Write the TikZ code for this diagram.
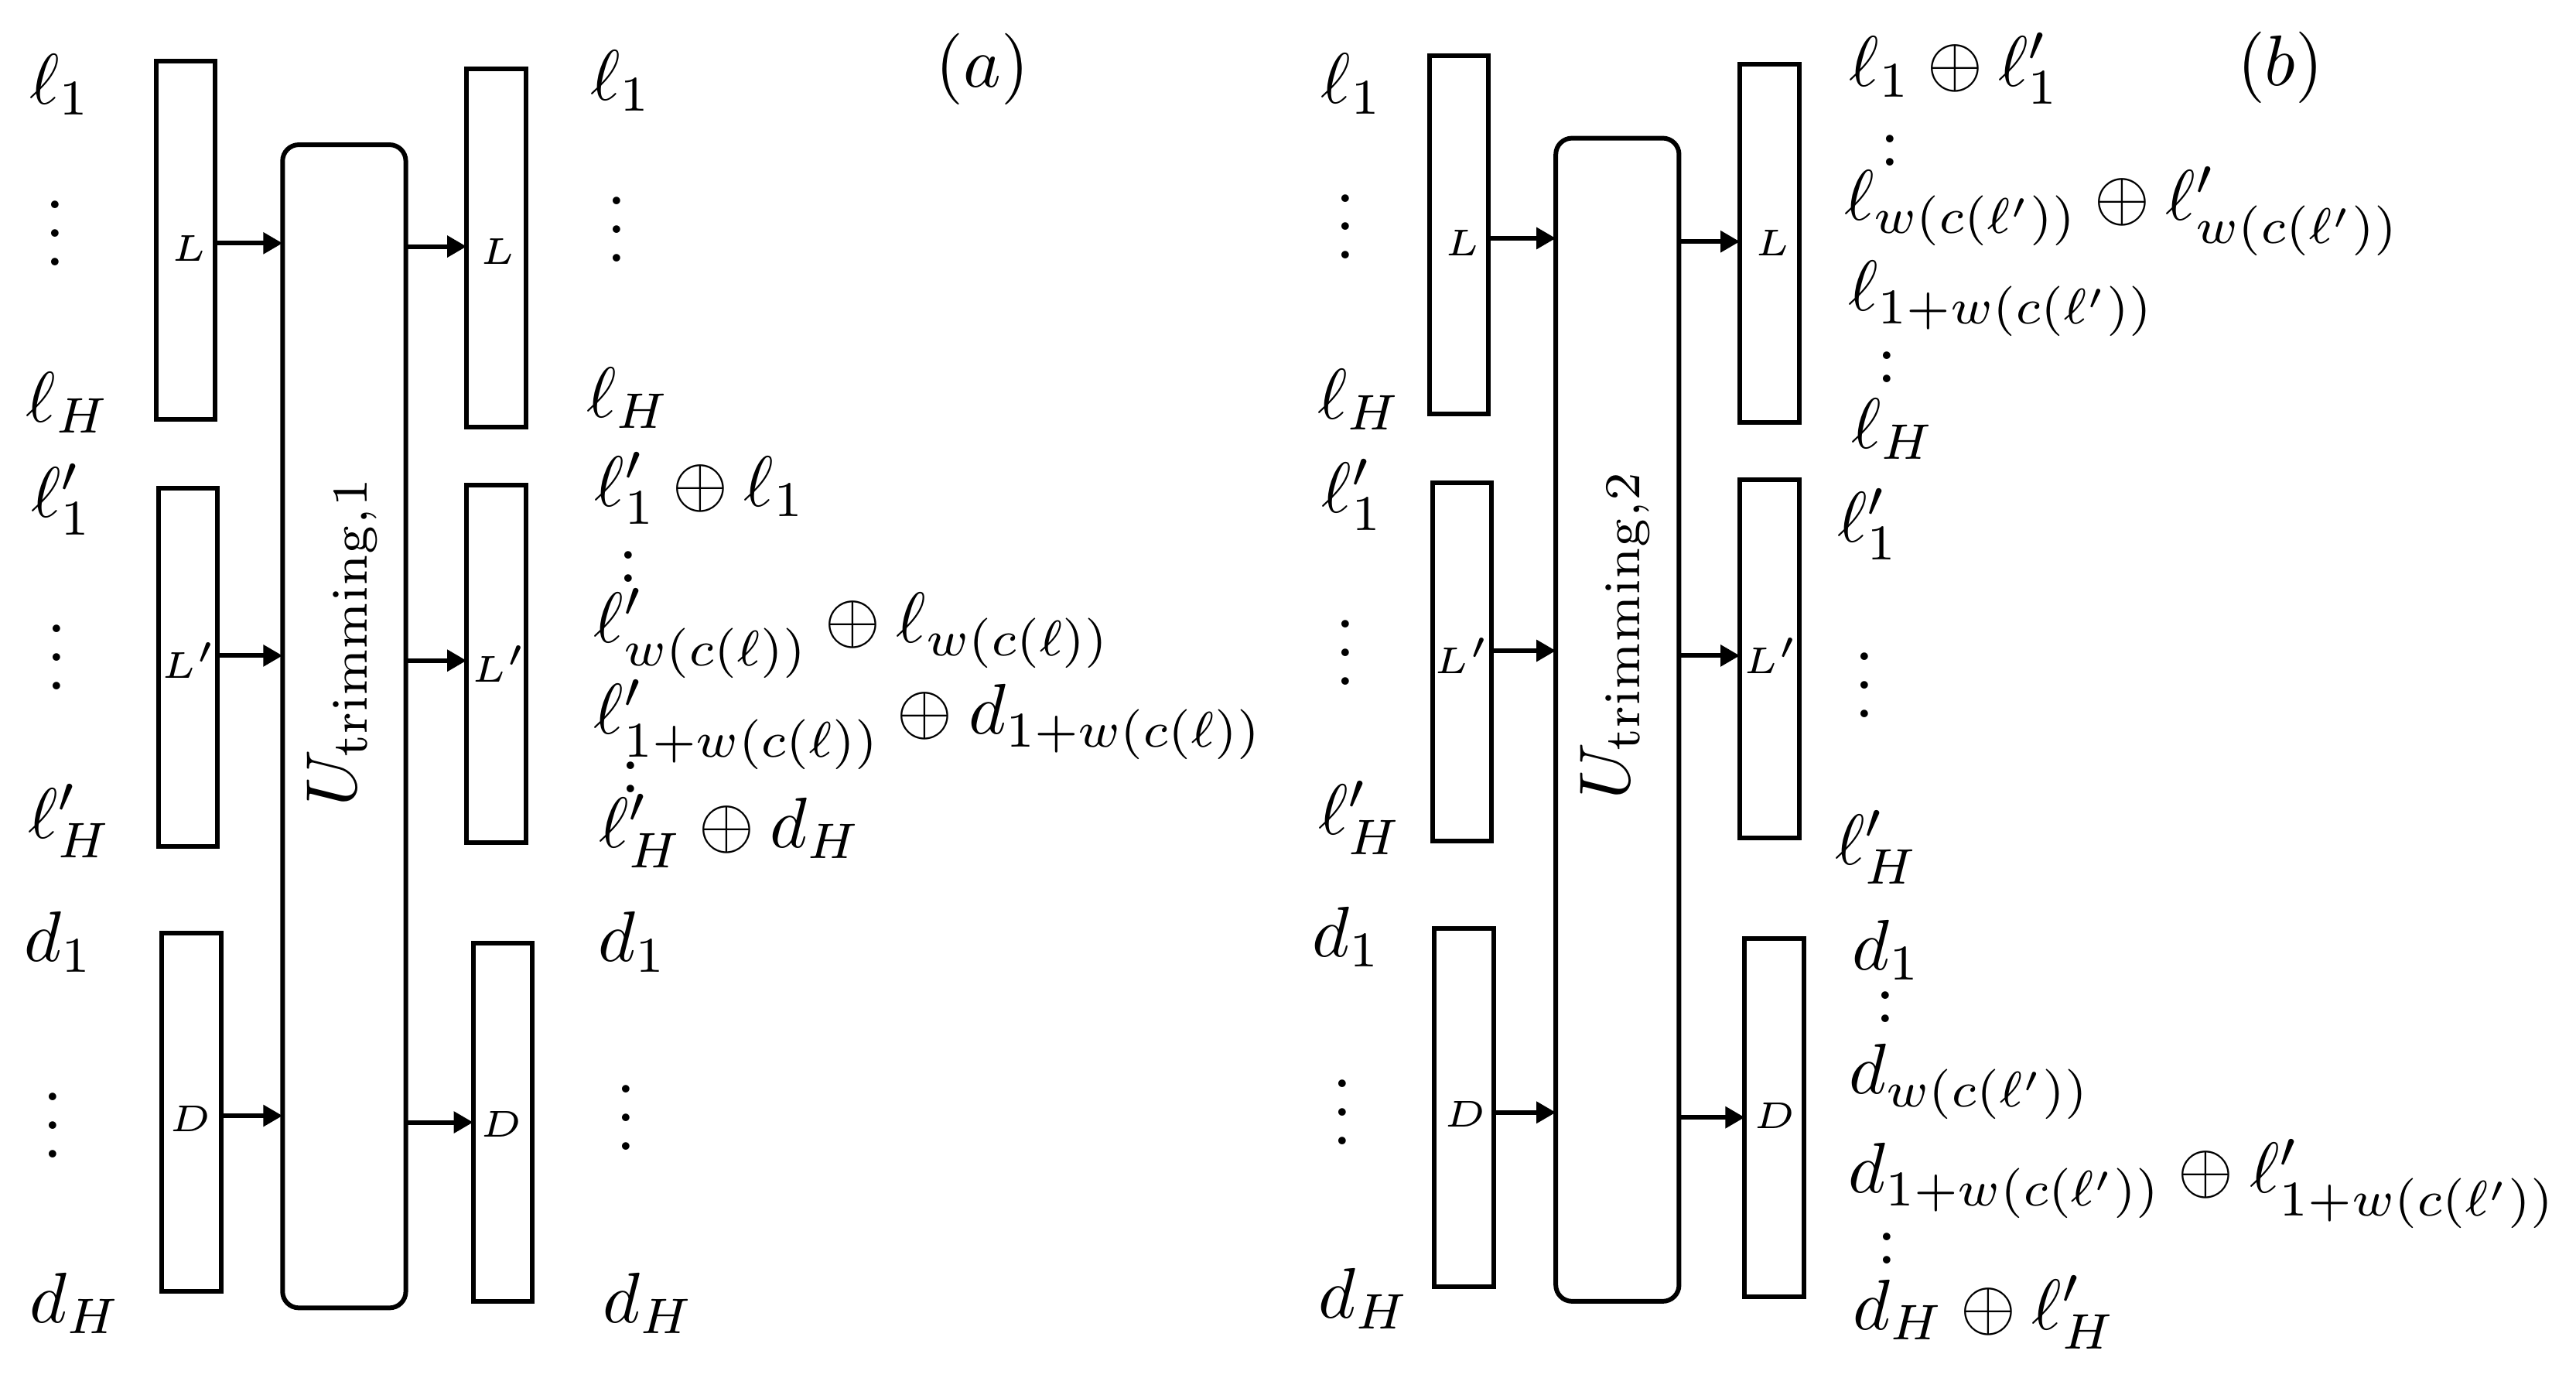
\documentclass[tikz,border=0pt]{standalone}
\usetikzlibrary{arrows.meta}
\newcommand{\tdots}[1]{\vbox{\baselineskip#1\lineskiplimit0pt\hbox{.}\hbox{.}\hbox{.}}}
\newcommand{\twodots}{\vbox{\baselineskip3.25pt\lineskiplimit0pt\hbox{.}\hbox{.}}}
\tikzset{
  cell/.style={draw,line width=1.7pt,inner sep=0pt,outer sep=0pt,minimum width=.765cm,minimum height=4.63cm},
  core/.style={draw,line width=1.7pt,rounded corners=.21cm,inner sep=0pt,outer sep=0pt,minimum width=1.593cm,minimum height=15.035cm},
  arr/.style={line width=1.7pt,-{Triangle[length=.25cm,width=.27cm]}},
  txt/.style={anchor=base west,inner sep=0pt,outer sep=0pt,scale=2.63},
  dts/.style={anchor=center,inner sep=0pt,outer sep=0pt,scale=2.63},
  tag/.style={anchor=center,inner sep=0pt,outer sep=0pt,scale=2.75,font=\tiny},
  ulabel/.style={anchor=center,rotate=90,inner sep=0pt,outer sep=0pt,scale=2.64}
}
\begin{document}
\begin{tikzpicture}[x=0.021237cm,y=-0.021237cm]
\useasboundingbox (0,0) rectangle (1568,838.6);
% ---------- (a)
\node[cell] (a1) at (113,146) {};
\node[cell] (a2) at (114.5,406) {};
\node[cell] (a3) at (116.5,677) {};
\node[core] (U1) at (209.5,442) {};
\node[cell] (r1) at (302,151) {};
\node[cell] (r2) at (302,404) {};
\node[cell] (r3) at (306,683) {};
\node[ulabel] (U1t) at (208,390) {$U_{\mathrm{trimming},1}$};
\draw[arr] (a1.east |- 0,148) -- (U1.west |- 0,148);
\draw[arr] (a2.east |- 0,399) -- (U1.west |- 0,399);
\draw[arr] (a3.east |- 0,679) -- (U1.west |- 0,679);
\draw[arr] (U1.east |- 0,150) -- (r1.west |- 0,150);
\draw[arr] (U1.east |- 0,402) -- (r2.west |- 0,402);
\draw[arr] (U1.east |- 0,683) -- (r3.west |- 0,683);
\node[tag] (ta1) at (115,151) {$L$};
\node[tag] (ta2) at (115,402) {$L'$};
\node[tag] (ta3) at (116,681) {$D$};
\node[tag] (tr1) at (303,153) {$L$};
\node[tag] (tr2) at (304,404) {$L'$};
\node[tag] (tr3) at (305,684) {$D$};
\node[txt] (x1) at (18,63.5) {$\ell_1$};
\node[dts] (x2) at (33.7,142) {\tdots{4pt}};
\node[txt] (x3) at (16,257) {$\ell_H$};
\node[txt] (x4) at (19,315) {$\ell'_1$};
\node[dts] (x5) at (34.5,400) {\tdots{4pt}};
\node[txt] (x6) at (17,510) {$\ell'_H$};
\node[txt] (x7) at (15,585) {$d_1$};
\node[dts] (x8) at (32,685) {\tdots{4pt}};
\node[txt] (x9) at (18,805) {$d_H$};
\node[txt] (y1) at (359.5,61) {$\ell_1$};
\node[dts] (y2) at (375.6,139.5) {\tdots{4pt}};
\node[txt] (y3) at (357,254) {$\ell_H$};
\node[txt] (y4) at (362,308) {$\ell'_1 \oplus \ell_1$};
\node[dts] (y5) at (382.6,345) {\twodots};
\node[txt] (y6) at (361.5,391) {$\ell'_{w(c(\ell))} \oplus \ell_{w(c(\ell))}$};
\node[txt] (y7) at (361.5,446.6) {$\ell'_{1+w(c(\ell))} \oplus d_{1+w(c(\ell))}$};
\node[dts] (y8) at (384,473) {\twodots};
\node[txt] (y9) at (364.5,516) {$\ell'_H \oplus d_H$};
\node[txt] (y10) at (364,585) {$d_1$};
\node[dts] (y11) at (381,680) {\tdots{4pt}};
\node[txt] (y12) at (367,805) {$d_H$};
\node[txt,anchor=center] (capa) at (598,42) {$(a)$};
% ---------- (b)
\node[cell] (b1) at (888,143) {};
\node[cell] (b2) at (890,403) {};
\node[cell] (b3) at (891,674) {};
\node[core] (U2) at (984.5,438) {};
\node[cell] (s1) at (1077,148) {};
\node[cell] (s2) at (1077,401) {};
\node[cell] (s3) at (1080,680) {};
\node[ulabel] (U2t) at (983,386) {$U_{\mathrm{trimming},2}$};
\draw[arr] (b1.east |- 0,145) -- (U2.west |- 0,145);
\draw[arr] (b2.east |- 0,396) -- (U2.west |- 0,396);
\draw[arr] (b3.east |- 0,677) -- (U2.west |- 0,677);
\draw[arr] (U2.east |- 0,147) -- (s1.west |- 0,147);
\draw[arr] (U2.east |- 0,399) -- (s2.west |- 0,399);
\draw[arr] (U2.east |- 0,680) -- (s3.west |- 0,680);
\node[tag] (tb1) at (890,148) {$L$};
\node[tag] (tb2) at (890,399) {$L'$};
\node[tag] (tb3) at (892,678) {$D$};
\node[tag] (ts1) at (1079,148) {$L$};
\node[tag] (ts2) at (1078,399) {$L'$};
\node[tag] (ts3) at (1080,679) {$D$};
\node[txt] (v1) at (804,63) {$\ell_1$};
\node[dts] (v2) at (819,138) {\tdots{4pt}};
\node[txt] (v3) at (802,255) {$\ell_H$};
\node[txt] (v4) at (804.5,312) {$\ell'_1$};
\node[dts] (v5) at (819,397) {\tdots{4pt}};
\node[txt] (v6) at (802.5,508) {$\ell'_H$};
\node[txt] (v7) at (799,582) {$d_1$};
\node[dts] (v8) at (817,677) {\tdots{4pt}};
\node[txt] (v9) at (802.5,802) {$d_H$};
\node[txt] (w1) at (1125.6,52.7) {$\ell_1 \oplus \ell'_1$};
\node[dts] (w2) at (1150.6,91.5) {\twodots};
\node[txt] (w3) at (1122.6,134) {$\ell_{w(c(\ell'))} \oplus \ell'_{w(c(\ell'))}$};
\node[txt] (w4) at (1125,189) {$\ell_{1+w(c(\ell'))}$};
\node[dts] (w5) at (1148.7,223.5) {\twodots};
\node[txt] (w6) at (1127,273) {$\ell_H$};
\node[txt] (w7) at (1118.5,330) {$\ell'_1$};
\node[dts] (w8) at (1135,417) {\tdots{4pt}};
\node[txt] (w9) at (1117,526) {$\ell'_H$};
\node[txt] (w10) at (1127.5,590) {$d_1$};
\node[dts] (w11) at (1147.6,613) {\twodots};
\node[txt] (w12) at (1125.5,665.6) {$d_{w(c(\ell'))}$};
\node[txt] (w13) at (1125,726) {$d_{1+w(c(\ell'))} \oplus \ell'_{1+w(c(\ell'))}$};
\node[dts] (w14) at (1148.6,760) {\twodots};
\node[txt] (w15) at (1128,809) {$d_H \oplus \ell'_H$};
\node[txt,anchor=center] (capb) at (1388,41) {$(b)$};
\end{tikzpicture}
\end{document}
